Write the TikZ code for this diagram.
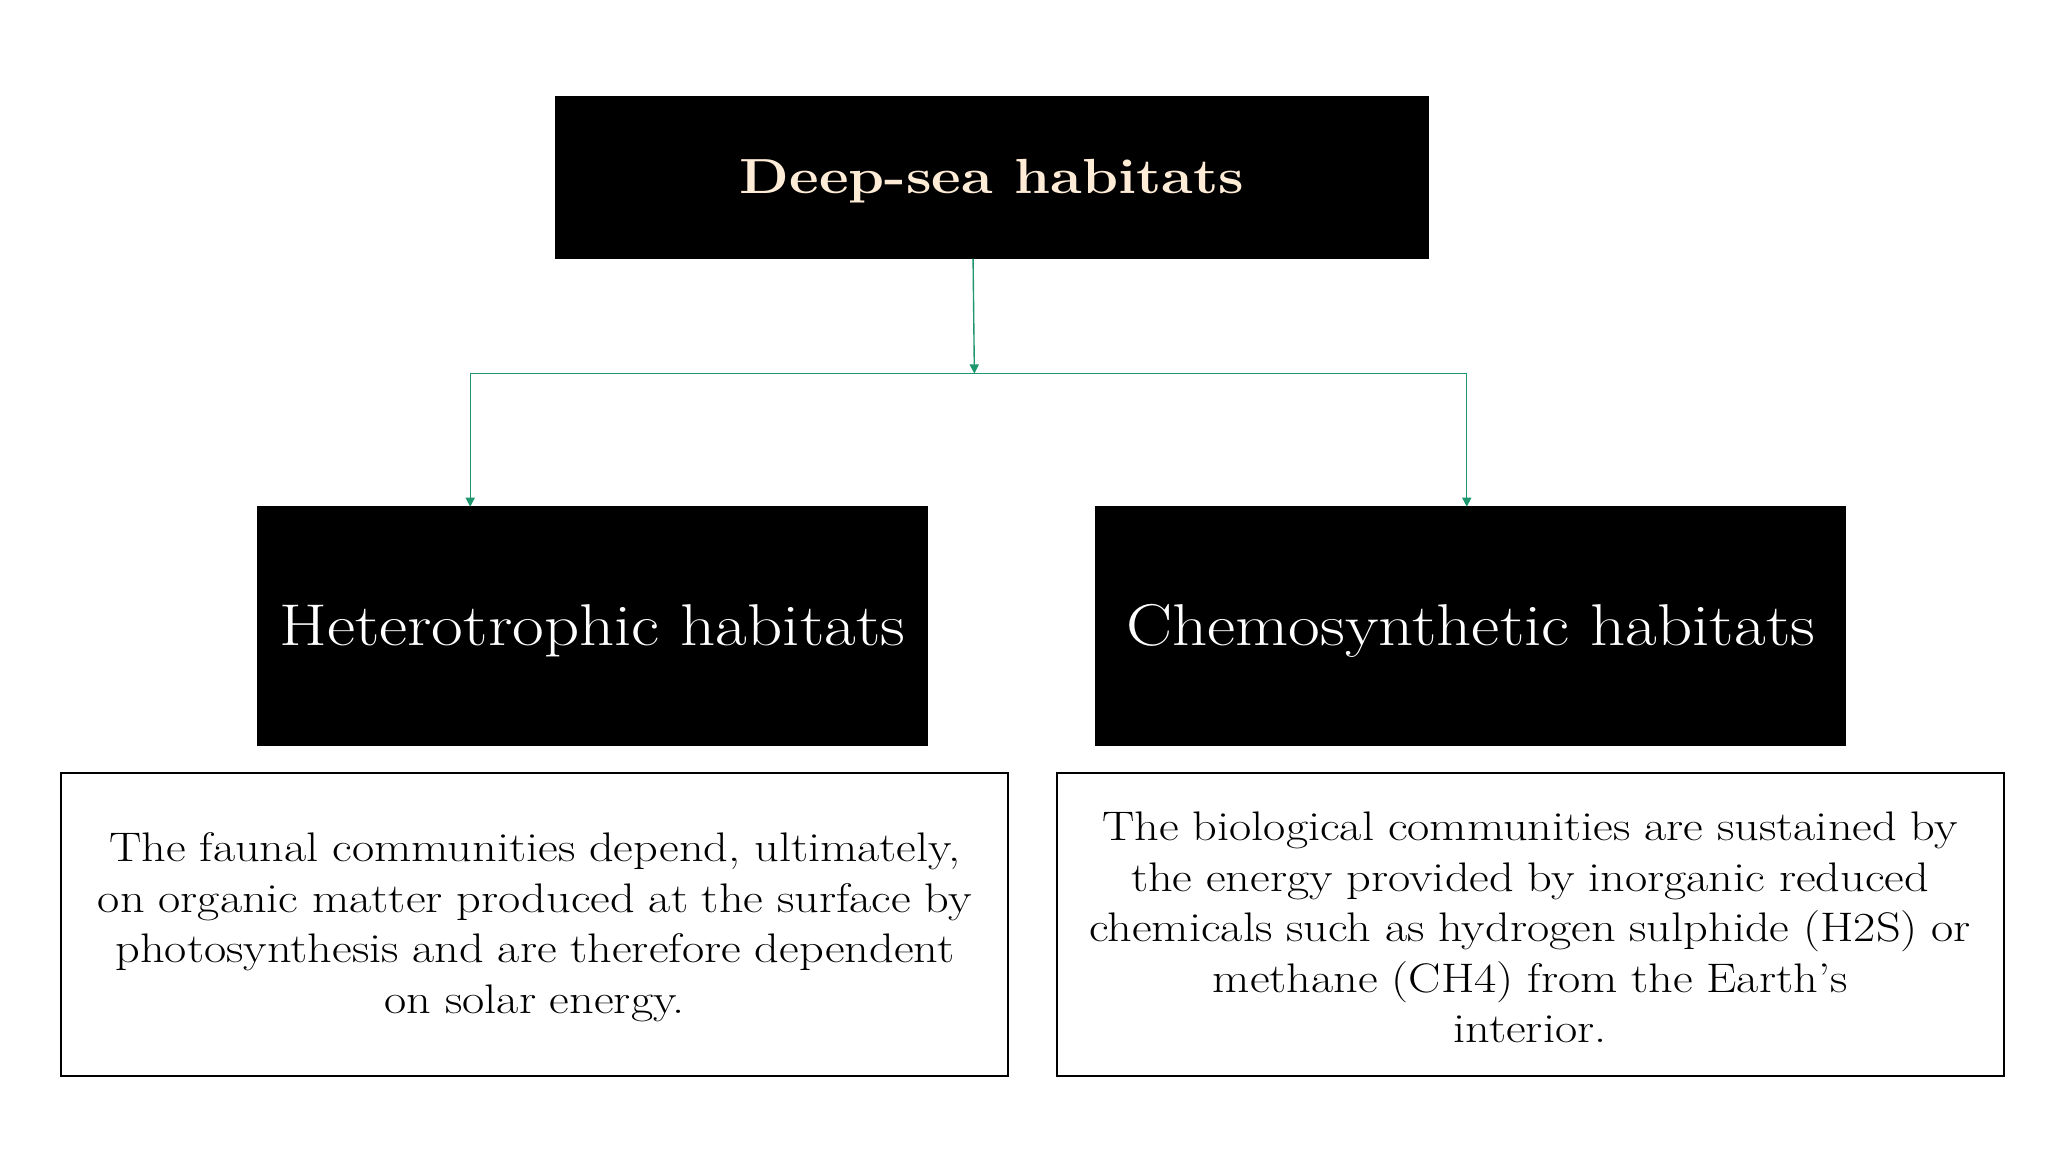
\documentclass[tikz,border=0pt]{standalone}
\usepackage{fontspec}
\setmainfont{Latin Modern Roman}[FakeStretch=1.17]
\usetikzlibrary{arrows.meta}
\definecolor{conn}{RGB}{30,150,110}
\definecolor{cream}{RGB}{255,236,215}
\begin{document}
\begin{tikzpicture}[x=0.02cm,y=-0.02cm,
  blk/.style={fill=black,draw=black,inner sep=0},
  txtbox/.style={draw=black,line width=0.8pt,fill=white},
  conline/.style={draw=conn,line width=0.6pt},
  arr/.style={conline,-{Triangle[length=4pt,width=4pt]}},
  body/.style={font=\fontsize{18}{22}\selectfont,align=center,text width=20cm}]
\useasboundingbox (0,0) rectangle (1568,882);
\fill[white] (0,0) rectangle (1568,882);
\fill[blk] (425,74) rectangle (1094,198);
\node[text=cream,font=\fontsize{21.5}{26}\selectfont\bfseries] (top) at (759.5,139) {Deep-sea habitats};
\fill[blk] (197,388) rectangle (710,571);
\node[text=white,font=\fontsize{25.7}{30}\selectfont] (het) at (453.5,483) {Heterotrophic habitats};
\fill[blk] (839,388) rectangle (1413,571);
\node[text=white,font=\fontsize{25.7}{30}\selectfont] (che) at (1126,483) {Chemosynthetic habitats};
\coordinate (tb) at (745,198);
\coordinate (j) at (746,286);
\coordinate (l) at (360,286);
\coordinate (r) at (1123,286);
\coordinate (lb) at (360,388);
\coordinate (rb) at (1123,388);
\draw[arr] (tb) -- (j);
\draw[conline] (l) -- (r);
\draw[arr] (l) -- (lb);
\draw[arr] (r) -- (rb);
\draw[txtbox] (47,592) rectangle (772,824);
\node[body] (lt) at (409.5,710) {The faunal communities depend, ultimately,\\ on organic matter produced at the surface by\\ photosynthesis and are therefore dependent\\ on solar energy.};
\draw[txtbox] (809,592) rectangle (1534,824);
\node[body] (rt) at (1171.5,710) {The biological communities are sustained by\\ the energy provided by inorganic reduced\\ chemicals such as hydrogen sulphide (H2S) or\\ methane (CH4) from the Earth's\\ interior.};
\end{tikzpicture}
\end{document}
